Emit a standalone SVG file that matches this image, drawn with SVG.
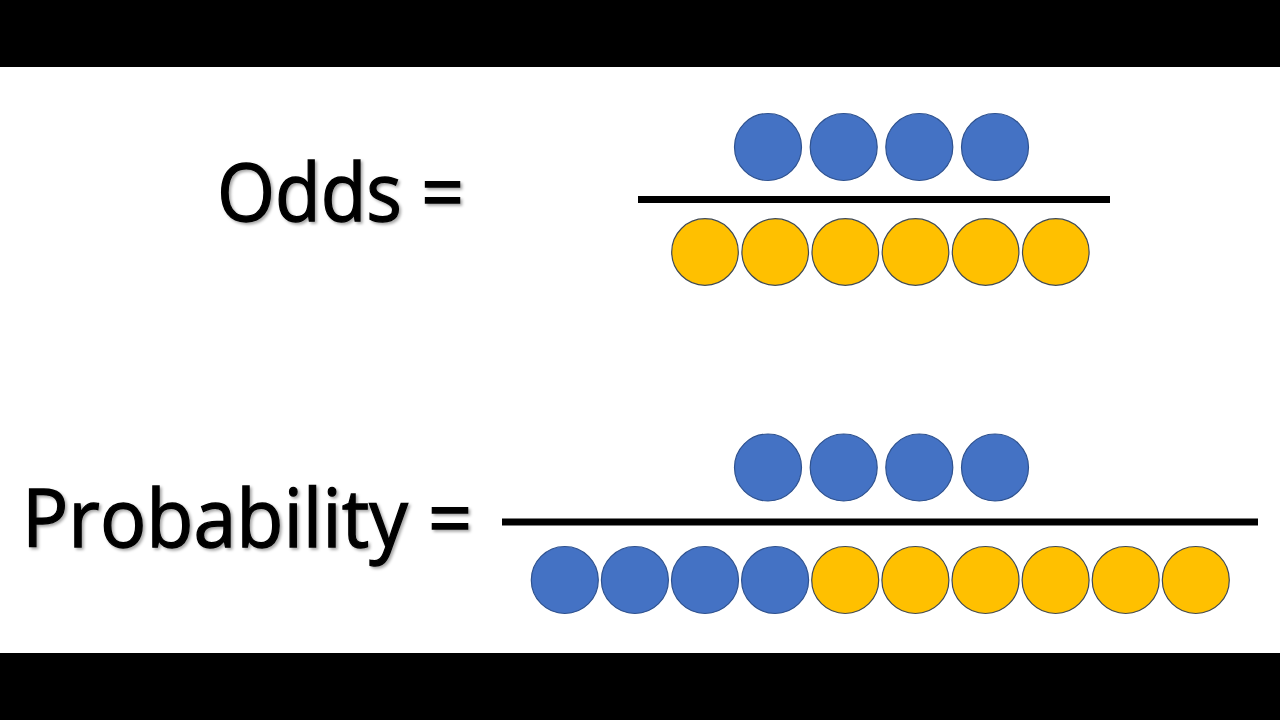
<svg xmlns="http://www.w3.org/2000/svg" width="1280" height="720" viewBox="0 0 1280 720">
  <defs>
    <filter id="shadow" x="-5%" y="-20%" width="110%" height="140%">
      <feDropShadow dx="2" dy="2" stdDeviation="1.5" flood-color="#000" flood-opacity="0.35"/>
    </filter>
  </defs>
  <style>
    .label { font-family: "Open Sans", "Noto Sans", "Liberation Sans", sans-serif; font-size: 80px; fill: #000; stroke: #000; stroke-width: 1.3; }
    .blue { fill: #4472C4; stroke: #2F528F; stroke-width: 1.2; }
    .yellow { fill: #FFC000; stroke: #404a55; stroke-width: 1.2; }
    .bar { stroke: #000; stroke-width: 7; }
  </style>
  <rect x="0" y="0" width="1280" height="720" fill="#fff"/>
  <rect x="0" y="0" width="1280" height="67" fill="#000"/>
  <rect x="0" y="653" width="1280" height="67" fill="#000"/>

  <g id="odds-label" filter="url(#shadow)">
    <text class="label" x="217" y="221" textLength="247" lengthAdjust="spacingAndGlyphs">Odds =</text>
  </g>
  <g id="probability-label" filter="url(#shadow)">
    <text class="label" x="22" y="547" textLength="450" lengthAdjust="spacingAndGlyphs">Probability =</text>
  </g>

  <g id="connectors">
    <line class="bar" x1="638" y1="199.5" x2="1110" y2="199.5"/>
    <line class="bar" x1="502" y1="522" x2="1258" y2="522"/>
  </g>

  <g id="odds-numerator">
    <circle class="blue" cx="768" cy="147" r="33.5"/>
    <circle class="blue" cx="843.7" cy="147" r="33.5"/>
    <circle class="blue" cx="919.3" cy="147" r="33.5"/>
    <circle class="blue" cx="995" cy="147" r="33.5"/>
  </g>
  <g id="odds-denominator">
    <circle class="yellow" cx="705" cy="252" r="33.3"/>
    <circle class="yellow" cx="775.2" cy="252" r="33.3"/>
    <circle class="yellow" cx="845.3" cy="252" r="33.3"/>
    <circle class="yellow" cx="915.5" cy="252" r="33.3"/>
    <circle class="yellow" cx="985.6" cy="252" r="33.3"/>
    <circle class="yellow" cx="1055.8" cy="252" r="33.3"/>
  </g>

  <g id="probability-numerator">
    <circle class="blue" cx="768" cy="467.5" r="33.5"/>
    <circle class="blue" cx="843.7" cy="467.5" r="33.5"/>
    <circle class="blue" cx="919.3" cy="467.5" r="33.5"/>
    <circle class="blue" cx="995" cy="467.5" r="33.5"/>
  </g>
  <g id="probability-denominator">
    <circle class="blue" cx="564.8" cy="580" r="33.5"/>
    <circle class="blue" cx="634.9" cy="580" r="33.5"/>
    <circle class="blue" cx="705" cy="580" r="33.5"/>
    <circle class="blue" cx="775.1" cy="580" r="33.5"/>
    <circle class="yellow" cx="845.2" cy="580" r="33.5"/>
    <circle class="yellow" cx="915.4" cy="580" r="33.5"/>
    <circle class="yellow" cx="985.5" cy="580" r="33.5"/>
    <circle class="yellow" cx="1055.6" cy="580" r="33.5"/>
    <circle class="yellow" cx="1125.7" cy="580" r="33.5"/>
    <circle class="yellow" cx="1195.8" cy="580" r="33.5"/>
  </g>
</svg>
